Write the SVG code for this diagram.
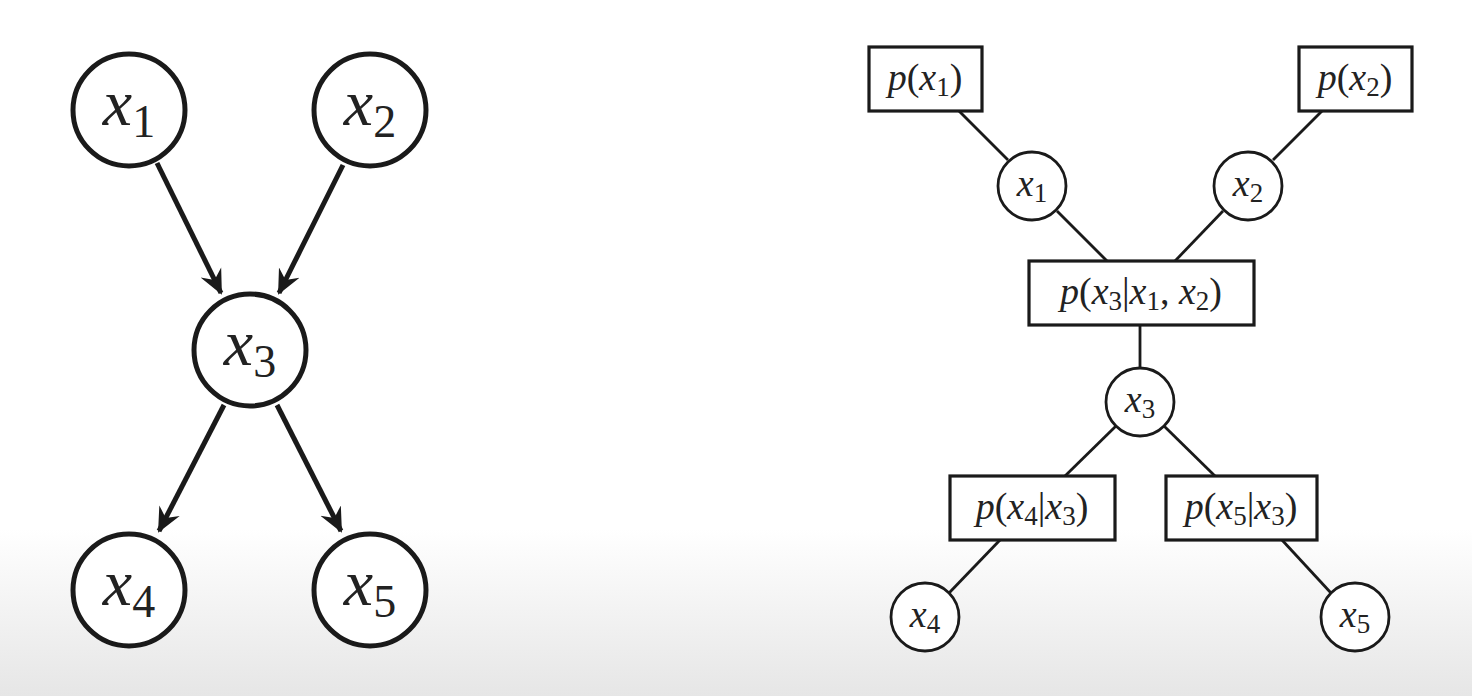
<svg xmlns="http://www.w3.org/2000/svg" width="1472" height="696" viewBox="0 0 1472 696">
<defs>
<linearGradient id="bg" x1="0" y1="0" x2="0" y2="1">
<stop offset="0" stop-color="#ffffff"/><stop offset="0.76" stop-color="#ffffff"/><stop offset="1" stop-color="#e6e6e6"/>
</linearGradient>
<marker id="ah" viewBox="0 0 12 12" refX="11" refY="6" markerWidth="5" markerHeight="5" orient="auto" markerUnits="strokeWidth">
<path d="M0,0.5 L12,6 L0,11.5 L4,6 Z" fill="#1a1a1a"/>
</marker>
<style>
.big{fill:#fff;stroke:#1a1a1a;stroke-width:5}
.sm{fill:#fff;stroke:#1a1a1a;stroke-width:2.8}
.bx{fill:#fff;stroke:#1a1a1a;stroke-width:3.2}
.arr{stroke:#1a1a1a;stroke-width:5;marker-end:url(#ah)}
.ln{stroke:#1a1a1a;stroke-width:2.8}
text{font-family:"Liberation Serif","DejaVu Serif",serif;fill:#222;text-anchor:middle}
.L{font-size:66px}.S{font-size:38px}
.i{font-style:italic}
</style>
</defs>
<rect width="1472" height="696" fill="url(#bg)"/>
<g id="connectors">
<line class="arr" x1="157" y1="163" x2="221" y2="293"/>
<line class="arr" x1="343" y1="165" x2="279" y2="293"/>
<line class="arr" x1="224" y1="405" x2="159" y2="531"/>
<line class="arr" x1="277" y1="405" x2="341" y2="531"/>
<line class="ln" x1="959" y1="111" x2="1008" y2="160"/>
<line class="ln" x1="1057" y1="211" x2="1107" y2="261"/>
<line class="ln" x1="1322" y1="111" x2="1273" y2="160"/>
<line class="ln" x1="1223" y1="211" x2="1175" y2="261"/>
<line class="ln" x1="1140" y1="325" x2="1140" y2="368"/>
<line class="ln" x1="1116" y1="426" x2="1065" y2="476"/>
<line class="ln" x1="1164" y1="426" x2="1215" y2="476"/>
<line class="ln" x1="1000" y1="540" x2="949" y2="593"/>
<line class="ln" x1="1282" y1="540" x2="1331" y2="593"/>
</g>
<g id="L_x1"><circle class="big" cx="129" cy="110" r="56"/><text class="L" x="129" y="125"><tspan class="i">x</tspan><tspan font-size="46" dy="12">1</tspan></text></g>
<g id="L_x2"><circle class="big" cx="370" cy="110" r="56"/><text class="L" x="370" y="125"><tspan class="i">x</tspan><tspan font-size="46" dy="12">2</tspan></text></g>
<g id="L_x3"><circle class="big" cx="250" cy="350" r="56"/><text class="L" x="250" y="365"><tspan class="i">x</tspan><tspan font-size="46" dy="12">3</tspan></text></g>
<g id="L_x4"><circle class="big" cx="129" cy="590" r="56"/><text class="L" x="129" y="605"><tspan class="i">x</tspan><tspan font-size="46" dy="12">4</tspan></text></g>
<g id="L_x5"><circle class="big" cx="370" cy="590" r="56"/><text class="L" x="370" y="605"><tspan class="i">x</tspan><tspan font-size="46" dy="12">5</tspan></text></g>
<g id="R_px1"><rect class="bx" x="869" y="47" width="113" height="64"/><text class="S" x="925" y="90"><tspan class="i">p</tspan>(<tspan class="i">x</tspan><tspan font-size="27" dy="6">1</tspan><tspan dy="-6">)</tspan></text></g>
<g id="R_px2"><rect class="bx" x="1299" y="47" width="113" height="64"/><text class="S" x="1355" y="90"><tspan class="i">p</tspan>(<tspan class="i">x</tspan><tspan font-size="27" dy="6">2</tspan><tspan dy="-6">)</tspan></text></g>
<g id="R_x1"><circle class="sm" cx="1032" cy="186" r="34"/><text class="S" x="1032" y="196"><tspan class="i">x</tspan><tspan font-size="27" dy="6">1</tspan></text></g>
<g id="R_x2"><circle class="sm" cx="1248" cy="186" r="34"/><text class="S" x="1248" y="196"><tspan class="i">x</tspan><tspan font-size="27" dy="6">2</tspan></text></g>
<g id="R_px3"><rect class="bx" x="1029" y="261" width="225" height="64"/><text class="S" x="1141" y="304"><tspan class="i">p</tspan>(<tspan class="i">x</tspan><tspan font-size="27" dy="6">3</tspan><tspan dy="-6">|</tspan><tspan class="i">x</tspan><tspan font-size="27" dy="6">1</tspan><tspan dy="-6">, </tspan><tspan class="i">x</tspan><tspan font-size="27" dy="6">2</tspan><tspan dy="-6">)</tspan></text></g>
<g id="R_x3"><circle class="sm" cx="1140" cy="402" r="34"/><text class="S" x="1140" y="412"><tspan class="i">x</tspan><tspan font-size="27" dy="6">3</tspan></text></g>
<g id="R_px4"><rect class="bx" x="950" y="476" width="165" height="64"/><text class="S" x="1032" y="519"><tspan class="i">p</tspan>(<tspan class="i">x</tspan><tspan font-size="27" dy="6">4</tspan><tspan dy="-6">|</tspan><tspan class="i">x</tspan><tspan font-size="27" dy="6">3</tspan><tspan dy="-6">)</tspan></text></g>
<g id="R_px5"><rect class="bx" x="1166" y="476" width="151" height="64"/><text class="S" x="1241" y="519"><tspan class="i">p</tspan>(<tspan class="i">x</tspan><tspan font-size="27" dy="6">5</tspan><tspan dy="-6">|</tspan><tspan class="i">x</tspan><tspan font-size="27" dy="6">3</tspan><tspan dy="-6">)</tspan></text></g>
<g id="R_x4"><circle class="sm" cx="925" cy="617" r="34"/><text class="S" x="925" y="627"><tspan class="i">x</tspan><tspan font-size="27" dy="6">4</tspan></text></g>
<g id="R_x5"><circle class="sm" cx="1355" cy="617" r="34"/><text class="S" x="1355" y="627"><tspan class="i">x</tspan><tspan font-size="27" dy="6">5</tspan></text></g>
</svg>
